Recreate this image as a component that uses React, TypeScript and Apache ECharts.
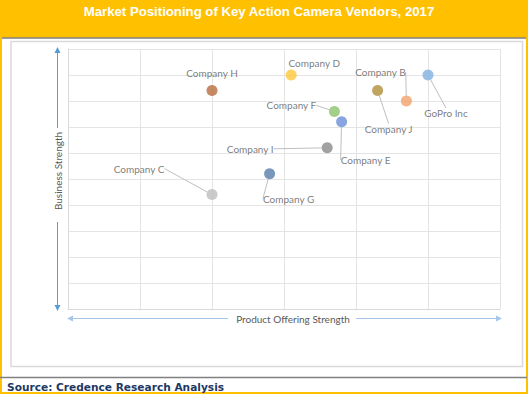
import React, { useEffect, useRef } from "react";
import * as echarts from "echarts";

const companies = ["Company H", "Company D", "Company B", "GoPro Inc", "Company J", "Company F", "Company E", "Company I", "Company G", "Company C"];
const productStrength = [2.0, 3.1, 4.7, 5.0, 4.3, 3.7, 3.8, 3.6, 2.8, 2.0];
const businessStrength = [8.4, 9.0, 8.0, 9.0, 8.4, 7.6, 7.2, 6.2, 5.2, 4.4];
const colors = ["#B86B3C", "#FFC83A", "#F3A06C", "#7FB2E2", "#B08F38", "#8CC36A", "#6A8ED8", "#8A8A8A", "#587DAA", "#BDBDBD"];
const labelDx = [0, 23, -26, 18, 11, -43, 24, -77, 19, -73];
const labelDy = [-18, -12, -29, 38, 38, -6, 38, 1, 25, -26];
const showLeader = [false, false, true, true, true, true, true, true, true, true];

const title = "Market Positioning of Key Action Camera Vendors, 2017";
const xTitle = "Product Offering Strength";
const yTitle = "Business Strength";
const source = "Source: Credence Research Analysis";

export default function App() {
  const ref = useRef<HTMLDivElement>(null);
  useEffect(() => {
    const chart = echarts.init(ref.current!, null, { renderer: "svg" });
    const data = companies.map((name, i) => ({
      name,
      value: [productStrength[i], businessStrength[i]],
      itemStyle: { color: colors[i] },
      labelLine: { show: showLeader[i] },
    }));
    const yArrow = "#5B9BD5";
    const xArrow = "#A7C7EA";
    chart.setOption({
      animation: false,
      backgroundColor: "#FFFFFF",
      grid: { left: 68, top: 49, width: 432, height: 260 },
      xAxis: {
        type: "value", min: 0, max: 6, interval: 1,
        axisLabel: { show: false }, axisTick: { show: false },
        axisLine: { show: true, lineStyle: { color: "#D9D9D9" } },
        splitLine: { show: true, lineStyle: { color: "#E4E4E4", width: 1 } },
      },
      yAxis: {
        type: "value", min: 0, max: 10, interval: 1,
        axisLabel: { show: false }, axisTick: { show: false },
        axisLine: { show: true, lineStyle: { color: "#D9D9D9" } },
        splitLine: { show: true, lineStyle: { color: "#E4E4E4", width: 1 } },
      },
      series: [
        {
          type: "scatter",
          symbolSize: 11,
          data,
          label: {
            show: true,
            position: "inside",
            formatter: "{b}",
            color: "#595959",
            fontFamily: "Lato",
            fontSize: 10,
          },
          labelLine: { show: true, lineStyle: { color: "#BFBFBF", width: 1 } },
          labelLayout: (p: any) => ({ dx: labelDx[p.dataIndex], dy: labelDy[p.dataIndex], hideOverlap: false }),
          z: 5,
        },
      ],
      graphic: [
        { type: "rect", shape: { x: 0, y: 0, width: 528, height: 38 }, style: { fill: "#FFC000" }, silent: true, z: -1 },
        { type: "line", shape: { x1: 0, y1: 38, x2: 528, y2: 38 }, style: { stroke: "#7F7F7F", lineWidth: 1.5 }, silent: true },
        { type: "rect", shape: { x: 1, y: 0, width: 526, height: 393 }, style: { fill: "none", stroke: "#FFC000", lineWidth: 2 }, silent: true },
        { type: "rect", shape: { x: 11, y: 41.5, width: 511.5, height: 325 }, style: { fill: "none", stroke: "#D9D9D9", lineWidth: 1.5 }, silent: true },
        { type: "line", shape: { x1: 0, y1: 377.5, x2: 527, y2: 377.5 }, style: { stroke: "#808080", lineWidth: 1.5 }, silent: true },
        { type: "text", x: 259, y: 11, style: { text: title, fill: "#FFFFFF", font: "bold 13.2px 'Liberation Sans'", align: "center", verticalAlign: "middle" }, silent: true },
        { type: "text", x: 7, y: 387, style: { text: source, fill: "#1F3864", font: "bold 10.6px 'DejaVu Sans'", align: "left", verticalAlign: "middle" }, silent: true },
        { type: "line", shape: { x1: 57.5, y1: 52, x2: 57.5, y2: 128 }, style: { stroke: yArrow, lineWidth: 1 }, silent: true },
        { type: "polygon", shape: { points: [[57.5, 47], [54.5, 53], [60.5, 53]] }, style: { fill: yArrow }, silent: true },
        { type: "line", shape: { x1: 57.5, y1: 222, x2: 57.5, y2: 305 }, style: { stroke: yArrow, lineWidth: 1 }, silent: true },
        { type: "polygon", shape: { points: [[57.5, 311], [54.5, 305], [60.5, 305]] }, style: { fill: yArrow }, silent: true },
        { type: "text", x: 57.5, y: 171, rotation: Math.PI / 2, style: { text: yTitle, fill: "#595959", font: "10px Lato", align: "center", verticalAlign: "middle" }, silent: true },
        { type: "line", shape: { x1: 72, y1: 318.5, x2: 228, y2: 318.5 }, style: { stroke: xArrow, lineWidth: 1 }, silent: true },
        { type: "polygon", shape: { points: [[67, 318.5], [73, 315.5], [73, 321.5]] }, style: { fill: xArrow }, silent: true },
        { type: "line", shape: { x1: 356, y1: 318.5, x2: 497, y2: 318.5 }, style: { stroke: xArrow, lineWidth: 1 }, silent: true },
        { type: "polygon", shape: { points: [[502, 318.5], [496, 315.5], [496, 321.5]] }, style: { fill: xArrow }, silent: true },
        { type: "text", x: 293, y: 319, style: { text: xTitle, fill: "#595959", font: "10px Lato", align: "center", verticalAlign: "middle" }, silent: true },
      ],
    });
    return () => chart.dispose();
  }, []);
  return <div ref={ref} style={{ position: "absolute", left: 0, top: 0, width: 528, height: 394 }} />;
}
